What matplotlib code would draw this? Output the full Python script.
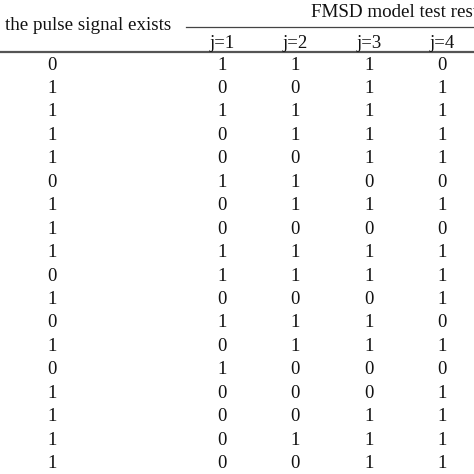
import matplotlib.pyplot as plt

# table contents
pulse_exists = [0, 1, 1, 1, 1, 0, 1, 1, 1, 0, 1, 0, 1, 0, 1, 1, 1, 1]
j1 = [1, 0, 1, 0, 0, 1, 0, 0, 1, 1, 0, 1, 0, 1, 0, 0, 0, 0]
j2 = [1, 0, 1, 1, 0, 1, 1, 0, 1, 1, 0, 1, 1, 0, 0, 0, 1, 0]
j3 = [1, 1, 1, 1, 1, 0, 1, 0, 1, 1, 0, 1, 1, 0, 0, 1, 1, 1]
j4 = [0, 1, 1, 1, 1, 0, 1, 0, 1, 1, 1, 0, 1, 0, 1, 1, 1, 1]
j_labels = ['j=1', 'j=2', 'j=3', 'j=4']

W = H = 474
fig = plt.figure(figsize=(W / 100, H / 100), dpi=100)
ax = fig.add_axes([0, 0, 1, 1])
ax.set_xlim(0, W)
ax.set_ylim(H, 0)
ax.axis('off')

txt = dict(family='Liberation Serif', fontsize=13.5, color='#111111', ha='center', va='center')

ax.text(5, 25, 'the pulse signal exists', **{**txt, 'ha': 'left', 'fontsize': 13.7})
ax.text(311, 12, 'FMSD model test results', **{**txt, 'ha': 'left', 'fontsize': 13.7})
ax.plot([186, W], [27, 27], color='#444444', lw=0.9)
col_x = [222, 295, 369, 442]
for x, lab in zip(col_x, j_labels):
    ax.text(x, 43, lab, **txt)
ax.plot([0, W], [52, 52], color='#555555', lw=1.6)

row_y0, row_dy = 65, 23.45
cols = [j1, j2, j3, j4]
for i, v in enumerate(pulse_exists):
    y = row_y0 + i * row_dy
    ax.text(52, y, str(v), **txt)
    for x, c in zip(col_x, cols):
        ax.text(x, y, str(c[i]), **txt)

fig.savefig('out.png', dpi=100)
